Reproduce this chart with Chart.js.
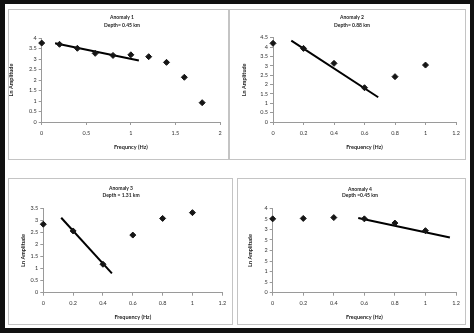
<!DOCTYPE html>
<html>
<head>
<meta charset="utf-8">
<script src="https://cdn.jsdelivr.net/npm/chart.js@4"></script>
<style>
  html, body { margin: 0; padding: 0; background: #fff; overflow: hidden; }
  #frame { position: absolute; left: 0; top: 0; width: 474px; height: 333px; background: #111; }
  #sheet { position: absolute; left: 5px; top: 4px; width: 465px; height: 324px; background: #fff; }
  .panel { position: absolute; box-sizing: border-box; border: 1px solid #c4c4c4; }
  canvas.chart { position: absolute; }
</style>
</head>
<body>
<div id="frame"><div id="sheet"></div></div>
<script>
// values
var titles = [
  ["Anomaly 1", "Depth= 0.45 km"],
  ["Anomaly 2", "Depth= 0.88 km"],
  ["Anomaly 3", "Depth = 1.31 km"],
  ["Anomaly 4", "Depth =0.45 km"]
];
var xTitles = ["Frequncy (Hz)", "Frequency (Hz)", "Frequency (Hz)", "Frequency (Hz)"];
var yTitle = "Ln Amplitude";

var freq1 = [0, 0.2, 0.4, 0.6, 0.8, 1.0, 1.2, 1.4, 1.6, 1.8];
var amp1 = [3.76, 3.70, 3.51, 3.27, 3.17, 3.20, 3.11, 2.84, 2.13, 0.92];
var fitFreq1 = [0.15, 1.09];
var fitAmp1 = [3.75, 2.93];

var freq2 = [0, 0.2, 0.4, 0.6, 0.8, 1.0];
var amp2 = [4.2, 3.93, 3.13, 1.83, 2.42, 3.04];
var fitFreq2 = [0.12, 0.69];
var fitAmp2 = [4.34, 1.32];

var freq3 = [0, 0.2, 0.4, 0.6, 0.8, 1.0];
var amp3 = [2.84, 2.56, 1.18, 2.39, 3.08, 3.32];
var fitFreq3 = [0.12, 0.46];
var fitAmp3 = [3.11, 0.80];

var freq4 = [0, 0.2, 0.4, 0.6, 0.8, 1.0];
var amp4 = [3.5, 3.52, 3.56, 3.5, 3.30, 2.94];
var fitFreq4 = [0.56, 1.16];
var fitAmp4 = [3.54, 2.62];

// axis ranges: [max, step]
var xAxes = [[2, 0.5], [1.2, 0.2], [1.2, 0.2], [1.2, 0.2]];
var yAxes = [[4, 0.5], [4.5, 0.5], [3.5, 0.5], [4, 0.5]];

// where each panel and plot area sits on the page
var layouts = [
  { panel: [8, 9, 229, 160], area: [41.7, 38, 220, 122], titleX: 122, titleY: 17.3, gap: 7.7, yTitleX: 11, xTitleY: 147 },
  { panel: [229, 9, 466, 160], area: [273, 37.7, 456, 122], titleX: 352, titleY: 17.3, gap: 7.7, yTitleX: 244, xTitleY: 147 },
  { panel: [8, 178, 233, 325], area: [43.3, 208.3, 222.3, 292.7], titleX: 121, titleY: 188.7, gap: 6.8, yTitleX: 23, xTitleY: 317.7 },
  { panel: [237, 178, 466, 325], area: [272.7, 208.3, 456, 292.7], titleX: 360, titleY: 189, gap: 6.8, yTitleX: 250, xTitleY: 317.7 }
];

var allFreq = [freq1, freq2, freq3, freq4];
var allAmp = [amp1, amp2, amp3, amp4];
var allFitFreq = [fitFreq1, fitFreq2, fitFreq3, fitFreq4];
var allFitAmp = [fitAmp1, fitAmp2, fitAmp3, fitAmp4];

var fontFamily = "Lato, 'Liberation Sans', sans-serif";
var axisColor = "#9a9a9a";

function toPoints(xs, ys) {
  var pts = [];
  for (var i = 0; i < xs.length; i++) {
    pts.push({ x: xs[i], y: ys[i] });
  }
  return pts;
}

// excel style: 0, 0.5, 1 ... no trailing zeros
function tickText(v) {
  return String(Math.round(v * 100) / 100);
}

function drawPanel(n) {
  var L = layouts[n];
  var p = L.panel, a = L.area;
  var W = p[2] - p[0], H = p[3] - p[1];

  var box = document.createElement("div");
  box.className = "panel";
  box.style.left = p[0] + "px";
  box.style.top = p[1] + "px";
  box.style.width = W + "px";
  box.style.height = H + "px";
  document.body.appendChild(box);

  var canvas = document.createElement("canvas");
  canvas.className = "chart";
  canvas.width = W;
  canvas.height = H;
  canvas.style.left = p[0] + "px";
  canvas.style.top = p[1] + "px";
  canvas.style.width = W + "px";
  canvas.style.height = H + "px";
  document.body.appendChild(canvas);

  var padR = W - (a[2] - p[0]);
  var padL = Math.max(0, 2 * (L.titleX - p[0]) - W + padR);
  var yWidth = (a[0] - p[0]) - padL;
  var xHeight = H - (a[3] - p[1]);
  var titleSize = 5;
  var titleTop = L.titleY - p[1] - L.gap / 2;
  var titleBottom = (a[1] - p[1]) - titleTop - 2 * L.gap;
  var axisTitleSize = 5.5;
  var axisLh = axisTitleSize * 1.2;

  new Chart(canvas.getContext("2d"), {
    type: "scatter",
    data: {
      datasets: [{
        data: toPoints(allFreq[n], allAmp[n]),
        pointStyle: "rectRot",
        pointRadius: 3,
        backgroundColor: "#151515",
        borderColor: "#151515",
        borderWidth: 1,
        clip: false
      }, {
        data: toPoints(allFitFreq[n], allFitAmp[n]),
        showLine: true,
        pointRadius: 0,
        borderColor: "#000",
        borderWidth: 2,
        clip: false
      }]
    },
    options: {
      responsive: false,
      animation: false,
      layout: { padding: { left: padL, right: padR, top: 0, bottom: 0 } },
      plugins: {
        legend: { display: false },
        tooltip: { enabled: false },
        title: {
          display: true,
          text: titles[n],
          color: "#222",
          font: { family: fontFamily, size: titleSize, weight: "bold", lineHeight: L.gap / titleSize },
          padding: { top: titleTop, bottom: titleBottom }
        }
      },
      scales: {
        x: {
          type: "linear",
          min: 0,
          max: xAxes[n][0],
          afterFit: function (s) { s.height = xHeight; },
          ticks: { stepSize: xAxes[n][1], autoSkip: false, color: "#333", padding: 4.5, font: { family: fontFamily, size: 5.5 }, callback: tickText },
          grid: { display: true, drawOnChartArea: false, drawTicks: true, tickLength: 3, color: axisColor },
          border: { display: true, color: axisColor },
          title: {
            display: true,
            text: xTitles[n],
            color: "#222",
            font: { family: fontFamily, size: axisTitleSize, weight: "bold", lineHeight: 1.2 },
            padding: { top: 0, bottom: (p[3] - L.xTitleY) - axisLh / 2 }
          }
        },
        y: {
          type: "linear",
          min: 0,
          max: yAxes[n][0],
          afterFit: function (s) { s.width = yWidth; },
          ticks: { stepSize: yAxes[n][1], autoSkip: false, color: "#333", padding: 2, font: { family: fontFamily, size: 5.5 }, callback: tickText },
          grid: { display: true, drawOnChartArea: false, drawTicks: true, tickLength: 3, color: axisColor },
          border: { display: true, color: axisColor },
          title: {
            display: true,
            text: yTitle,
            color: "#222",
            font: { family: fontFamily, size: axisTitleSize, weight: "bold", lineHeight: 1.2 },
            padding: { top: (L.yTitleX - p[0]) - padL - axisLh / 2, bottom: 0 }
          }
        }
      }
    }
  });
}

for (var i = 0; i < layouts.length; i++) {
  drawPanel(i);
}
</script>
</body>
</html>
